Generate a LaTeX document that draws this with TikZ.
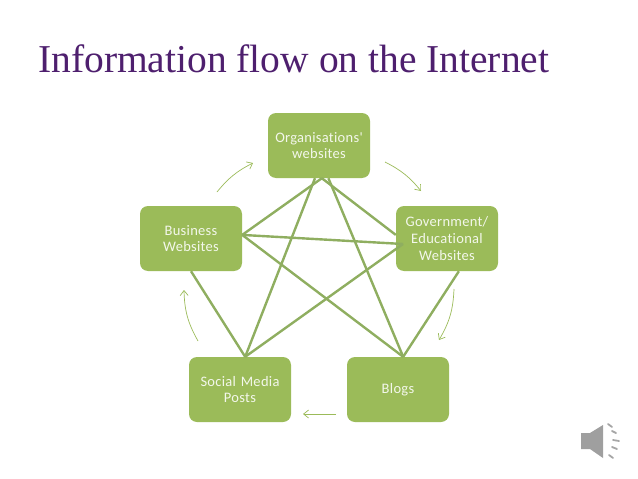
\documentclass[tikz,border=0pt]{standalone}
\usepackage{fontspec}
\setmainfont{Liberation Serif}
\newfontfamily\boxfont[LetterSpace=2.0,Ligatures=NoCommon]{Carlito}
\usepackage[usenames, svgnames, dvipsnames]{xcolor}
\usetikzlibrary{arrows.meta}
\definecolor{boxgreen}{HTML}{9BBB59}
\definecolor{linkgreen}{HTML}{8FAE60}
\definecolor{titlepurple}{HTML}{4E1F6E}
\tikzset{
	topic/.style={fill=boxgreen,rounded corners=8pt,minimum width=102pt,minimum height=65pt,
		inner sep=0pt,text width=100pt,align=center,text=white!88!boxgreen,
		font=\boxfont\fontsize{14.5}{16.8}\selectfont},
	link/.style={draw=linkgreen,line width=2.4pt},
	flow/.style={-{Straight Barb[length=5pt,width=8pt]},draw=boxgreen,line width=0.7pt},
	wave/.style={draw=gray!70,line width=1.8pt,line cap=round}
}

\begin{document}
\begin{tikzpicture}[x=1pt,y=-1pt]
	\useasboundingbox (0,0) rectangle (638,479);
	\node[anchor=base west,text=titlepurple,inner sep=0pt,font=\fontsize{39.5}{42}\selectfont] (Title) at (38,72) {Information flow on the Internet};
	\node[topic] (Org)  at (319,145.5) {Organisations'\\websites};
	\node[topic] (Gov)  at (447,238.5) {Government/\\Educational\\Websites};
	\node[topic] (Blog) at (398,389.5) {Blogs};
	\node[topic] (Soc)  at (240,389.5) {Social Media\\Posts};
	\node[topic] (Bus)  at (191,238.5) {Business\\Websites};
	\coordinate (GovIn) at (403,244);
	% star
	\path[link] (Org.-85) edge (Bus.4)
		(Org.-85) edge (Gov.176)
		(Org.-97) edge (Soc.81)
		(Org.-74) edge (Blog.81)
		(Bus.4) edge (GovIn)
		(Bus.4) edge (Blog.81)
		(Bus.south) edge (Soc.81)
		(Soc.81) edge (GovIn)
		(Gov.-70) edge (Blog.81);
	% thin arrows round the outside
	\coordinate (a1) at (217,192);
	\coordinate (a2) at (253,163);
	\coordinate (b1) at (385,162);
	\coordinate (b2) at (421,191);
	\coordinate (c1) at (454,289);
	\coordinate (c2) at (439,340);
	\coordinate (d1) at (336,414);
	\coordinate (d2) at (303,414);
	\coordinate (e1) at (198,341);
	\coordinate (e2) at (184,290);
	\path (a1) edge [flow,bend left=12] (a2)
		(b1) edge [flow,bend left=12] (b2)
		(c1) edge [flow,bend left=14] (c2)
		(d1) edge [flow] (d2)
		(e1) edge [flow,bend left=14] (e2);
	% speaker
	\fill[gray!75] (581,433) -- (590,433) -- (603,425) -- (603,458) -- (590,449) -- (581,449) -- cycle;
	\foreach \xa/\ya/\xb/\yb in {608/424/612/427,612/431/616/433,613/440/619/441,612/447/617/449,609/455/613/458}
		\draw[wave] (\xa,\ya) -- (\xb,\yb);
\end{tikzpicture}
\end{document}
